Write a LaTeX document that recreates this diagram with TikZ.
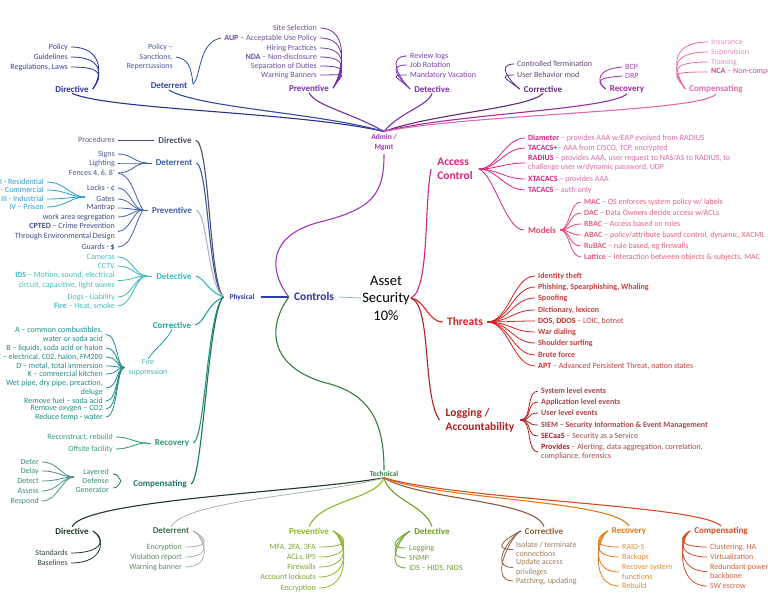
\documentclass[tikz,border=0pt]{standalone}
\usepackage{fontspec}
\setmainfont{Carlito}
\definecolor{cCtrl}{HTML}{2E2EA8}
\definecolor{cLink}{HTML}{8FB4DC}
\definecolor{cPhys}{HTML}{2C3FA6}
\definecolor{cAdmin}{HTML}{9B36B4}
\definecolor{cTech}{HTML}{2F8040}
\definecolor{aDir}{HTML}{2B2F93}\definecolor{aDirI}{HTML}{3C3FA0}
\definecolor{aDet}{HTML}{2F4C9C}\definecolor{aDetI}{HTML}{4F5C98}
\definecolor{aPre}{HTML}{7332A6}\definecolor{aPreI}{HTML}{6F4E9E}
\definecolor{aDte}{HTML}{7C2EB5}\definecolor{aDteI}{HTML}{7E3DAE}
\definecolor{aCor}{HTML}{5E2A78}\definecolor{aCorI}{HTML}{5C4470}
\definecolor{aRec}{HTML}{9D2BA6}\definecolor{aRecI}{HTML}{A344AE}
\definecolor{aCmp}{HTML}{E46AB0}\definecolor{aCmpI}{HTML}{E98BC0}\definecolor{aCmpB}{HTML}{D8459A}
\definecolor{pDir}{HTML}{4A4E68}\definecolor{pDirI}{HTML}{5C5F70}
\definecolor{pDet}{HTML}{3A5CA2}\definecolor{pDetI}{HTML}{4A5A88}
\definecolor{pPre}{HTML}{3F5FA8}\definecolor{pPreI}{HTML}{3E4C84}\definecolor{pPreL}{HTML}{A8B4D4}
\definecolor{pCls}{HTML}{2C9AD4}
\definecolor{pDte}{HTML}{36B8BC}\definecolor{pDteI}{HTML}{45BCC0}
\definecolor{pCor}{HTML}{1FA3A0}\definecolor{pFire}{HTML}{1E8C8A}
\definecolor{pRec}{HTML}{2C9278}\definecolor{pRecI}{HTML}{3A9A84}
\definecolor{pCmp}{HTML}{1B7468}\definecolor{pCmpI}{HTML}{3C8C80}
\definecolor{rAcc}{HTML}{D9237E}\definecolor{rAccI}{HTML}{D66AA8}
\definecolor{rMod}{HTML}{E5456E}\definecolor{rModI}{HTML}{E3607E}
\definecolor{rThr}{HTML}{D42020}\definecolor{rThrI}{HTML}{C83A3A}
\definecolor{rLog}{HTML}{B01E22}\definecolor{rLogI}{HTML}{A84545}
\definecolor{tDir}{HTML}{1E3826}\definecolor{tDirI}{HTML}{2E4636}
\definecolor{tDet}{HTML}{3D6E50}\definecolor{tDetI}{HTML}{5A8A62}\definecolor{tDetL}{HTML}{A6B6A6}
\definecolor{tPre}{HTML}{8DB824}\definecolor{tPreI}{HTML}{7BA232}
\definecolor{tDte}{HTML}{6D9E22}\definecolor{tDteI}{HTML}{6E9A30}
\definecolor{tCor}{HTML}{8C5A38}\definecolor{tCorI}{HTML}{9C7C5C}
\definecolor{tRec}{HTML}{E27C14}\definecolor{tRecI}{HTML}{E08A30}
\definecolor{tCmp}{HTML}{D44C24}\definecolor{tCmpI}{HTML}{D0603C}
\begin{document}
\begin{tikzpicture}[x=1pt,y=-1pt,
  it/.style={font=\fontsize{8}{9.4}\selectfont, inner xsep=3pt, inner ysep=0pt},
  itl/.style={it, anchor=west, align=left},
  itr/.style={it, anchor=east, align=right},
  cat/.style={font=\fontsize{9}{11}\selectfont\bfseries, inner xsep=4pt, inner ysep=1pt},
  hub/.style={font=\fontsize{7.5}{11}\selectfont\bfseries, inner xsep=4pt, inner ysep=1pt, align=center},
  big/.style={font=\fontsize{11.5}{14}\selectfont\bfseries, align=left, inner xsep=5pt, inner ysep=1pt},
  ln/.style={line width=0.8pt},
  tk/.style={line width=1.1pt}]
\useasboundingbox (0,0) rectangle (768,594);

% ---------- centre ----------
\node[font=\fontsize{14.5}{17.5}\selectfont, align=center, inner sep=1pt] (asset) at (386,298) {Asset\\Security\\10\%};
\node[big, text=cCtrl] (controls) at (314,297) {Controls};
\node[hub, text=cPhys, inner xsep=6pt] (physical) at (242,297) {Physical};
\node[hub, text=cAdmin, inner ysep=3pt] (admin) at (384,143) {Admin /\\[-1pt]Mgmt};
\node[hub, text=cTech] (tech) at (384,474) {Technical};
\draw[ln, cLink] (controls.east) -- (asset.west);
\draw[tk, cPhys] (physical.east) -- (controls.west);
\draw[tk, cAdmin] (controls.west) .. controls (268,270) and (268,235) .. (320,222) .. controls (372,209) and (384,195) .. (admin.south);
\draw[tk, cTech] (controls.west) .. controls (268,325) and (266,368) .. (330,384) .. controls (372,396) and (384,425) .. (tech.north);

% ---------- Admin / Mgmt ----------
\node[cat, text=aDir] (Adir) at (72,89) {Directive};
\foreach \y/\t [count=\i] in {47/{Policy}, 57/{Guidelines}, 67/{Regulations, Laws}}
  \node[itr, text=aDirI] (Adir\i) at (71,\y) {\t};
\foreach \i in {1,2,3}
  \draw[ln, aDir] (Adir\i.east) .. controls +(32,0) and +(10,-14) .. (Adir.east);

\node[cat, text=aDet] (Adet) at (169,86) {Deterrent};
\node[itr, text=aDetI, align=right] (AdetI) at (176,57) {Policy –\\Sanctions,\\Repercussions};
\coordinate (AdetH) at (193,84);
\draw[ln, aDet] (AdetI.east) .. controls +(12,2) and +(-2,-18) .. (AdetH);

\node[cat, text=aPre] (Apre) at (309,88) {Preventive};
\foreach \y/\t [count=\i] in {28/{Site Selection}, 38/{\textbf{AUP} – Acceptable Use Policy}, 48/{Hiring Practices}, 57/{\textbf{NDA} – Non-disclosure}, 66/{Separation of Duties}, 75/{Warning Banners}}
  \node[itr, text=aPreI] (Apre\i) at (320,\y) {\t};
\foreach \i in {1,...,6}
  \draw[ln, aPre] (Apre\i.east) .. controls +(30,0) and +(10,-16) .. (Apre.east);
\draw[ln, aDet] (AdetH) .. controls (201,78) and (198,42) .. (Apre2.west);

\node[cat, text=aDte] (Adte) at (432,89) {Detective};
\foreach \y/\t [count=\i] in {56/{Review logs}, 65/{Job Rotation}, 75/{Mandatory Vacation}}
  \node[itl, text=aDteI] (Adte\i) at (407,\y) {\t};
\foreach \i in {1,2,3}
  \draw[ln, aDte] (Adte\i.west) .. controls +(-20,0) and +(-12,-12) .. (Adte.west);

\node[cat, text=aCor] (Acor) at (543,89) {Corrective};
\foreach \y/\t [count=\i] in {64/{Controlled Termination}, 75/{User Behavior mod}}
  \node[itl, text=aCorI] (Acor\i) at (514,\y) {\t};
\foreach \i in {1,2}
  \draw[ln, aCor] (Acor\i.west) .. controls +(-18,0) and +(-10,-8) .. (Acor.west);

\node[cat, text=aRec] (Arec) at (627,89) {Recovery};
\foreach \y/\t [count=\i] in {67/{BCP}, 76/{DRP}}
  \node[itl, text=aRecI] (Arec\i) at (622,\y) {\t};
\foreach \i in {1,2}
  \draw[ln, aRec] (Arec\i.west) .. controls +(-25,2) and +(-10,-8) .. (Arec.west);

\node[cat, text=aCmp] (Acmp) at (716,89) {Compensating};
\foreach \y/\t [count=\i] in {42/{Insurance}, 52/{Supervision}, 62/{Training}, 72/{\textcolor{aCmpB}{\textbf{NCA} – Non-compete}}}
  \node[itl, text=aCmpI] (Acmp\i) at (708,\y) {\t};
\foreach \i in {1,...,4}
  \draw[ln, aCmp] (Acmp\i.west) .. controls +(-42,0) and +(-10,-15) .. (Acmp.west);

\draw[tk, aDir] (Adir.south) .. controls (110,110) and (300,112) .. (admin.north);
\draw[tk, aDet] (Adet.south) .. controls (200,108) and (320,113) .. (admin.north);
\draw[tk, aPre] (Apre.south) .. controls (315,106) and (350,112) .. (admin.north);
\draw[tk, aDte] (Adte.south) .. controls (428,106) and (400,112) .. (admin.north);
\draw[tk, aCor] (Acor.south) .. controls (530,108) and (430,114) .. (admin.north);
\draw[tk, aRec] (Arec.south) .. controls (610,110) and (450,114) .. (admin.north);
\draw[tk, aCmp] (Acmp.south) .. controls (700,112) and (470,114) .. (admin.north);

% ---------- Physical ----------
\node[cat, text=pDir] (Pdir) at (175,140) {Directive};
\node[itr, text=pDirI] (Pproc) at (118,140) {Procedures};
\draw[ln, pDir] (Pproc.east) -- (Pdir.west);

\node[cat, text=pDet] (Pdet) at (174,163) {Deterrent};
\coordinate (PdetH) at (147,163);
\foreach \y/\t [count=\i] in {154/{Signs}, 163/{Lighting}, 173/{Fences 4, 6, 8'}}
  \node[itr, text=pDetI] (Pdet\i) at (118,\y) {\t};
\foreach \i in {1,2,3}
  \draw[ln, pDet] (Pdet\i.east) .. controls +(14,0) and +(-12,0) .. (PdetH);
\draw[ln, pDet] (PdetH) -- (Pdet.west);

\node[cat, text=pPre] (Ppre) at (172,210) {Preventive};
\coordinate (PpreH) at (143,210);
\foreach \y/\t [count=\i] in {188/{Locks - ¢}, 199/{Gates}, 208/{Mantrap}, 217/{work area segregation}, 231.5/{\textbf{CPTED} – Crime Prevention\\Through Environmental Design}}
  \node[itr, text=pPreI] (Ppre\i) at (118,\y) {\t};
\node[itr, text=pPreI] (Pguard) at (118,247) {Guards - \textbf{\$}};
\foreach \i in {1,...,5}
  \draw[ln, pPre] (Ppre\i.east) .. controls +(12,0) and +(-10,0) .. (PpreH);
\draw[ln, pPre] (Pdet3.east) .. controls +(14,2) and +(-8,-12) .. (PpreH);
\draw[ln, pPre] (Pguard.east) .. controls +(14,0) and +(-8,12) .. (PpreH);
\draw[ln, pPre] (PpreH) -- (Ppre.west);

\coordinate (PclsH) at (85,197);
\foreach \y/\t [count=\i] in {182/{I - Residential}, 190/{II - Commercial}, 199/{III - Industrial}, 207/{IV – Prison}}
  \node[itr, text=pCls] (Pcls\i) at (47,\y) {\t};
\foreach \i in {1,...,4}
  \draw[ln, pCls] (Pcls\i.east) .. controls +(18,0) and +(-14,0) .. (PclsH);

\node[cat, text=pDte] (Pdte) at (174,276) {Detective};
\coordinate (PdteH) at (147,276);
\foreach \y/\t [count=\i] in {257/{Cameras}, 266/{CCTV}, 280.5/{\textbf{IDS} – Motion, sound, electrical\\circuit, capacitive, light waves}, 297/{Dogs - Liability}, 306/{\textbf{Fire} \ - Heat, smoke}}
  \node[itr, text=pDteI] (Pdte\i) at (118,\y) {\t};
\foreach \i in {1,...,5}
  \draw[ln, pDte] (Pdte\i.east) .. controls +(14,0) and +(-12,0) .. (PdteH);
\draw[ln, pDte] (PdteH) -- (Pdte.west);

\node[cat, text=pCor] (Pcor) at (172,325) {Corrective};
\node[it, text=pCor!80, align=center, inner xsep=4pt] (Pfire) at (148,367.5) {Fire\\suppression};
\draw[ln, pCor] (Pcor.south) .. controls +(-4,10) and +(6,-10) .. (Pfire.north);
\foreach \y/\t [count=\i] in {334.5/{A – common combustibles,\\water or soda acid}, 348/{B – liquids, soda acid or halon}, 357/{C – electrical, C02, halon, FM200}, 366/{D – metal, total immersion}, 374/{K – commercial kitchen}, 388/{Wet pipe, dry pipe, preaction,\\deluge}, 401/{Remove fuel – soda acid}, 409/{Remove oxygen – CO2}, 417/{Reduce temp - water}}
  \node[itr, text=pFire] (Pfi\i) at (106,\y) {\t};
\foreach \i in {1,...,9}
  \draw[ln, pFire] (Pfi\i.east) .. controls +(12,0) and +(-8,0) .. (Pfire.west);

\node[cat, text=pRec] (Prec) at (172,443) {Recovery};
\coordinate (PrecH) at (147,443);
\foreach \y/\t [count=\i] in {437/{Reconstruct, rebuild}, 449/{Offsite facility}}
  \node[itr, text=pRecI] (Prec\i) at (116,\y) {\t};
\foreach \i in {1,2}
  \draw[ln, pRec] (Prec\i.east) .. controls +(14,0) and +(-12,0) .. (PrecH);
\draw[ln, pRec] (PrecH) -- (Prec.west);

\node[cat, text=pCmp] (Pcmp) at (160,484) {Compensating};
\node[itr, text=pCmpI, font=\fontsize{8}{9}\selectfont] (Pldg) at (112,481) {Layered\\Defense\\Generator};
\coordinate (PcmpB) at (121,481);
\draw[ln, pCmp] (PcmpB) ++(-8,-7) .. controls +(5,0) and +(-3,-4) .. (PcmpB) .. controls +(-3,4) and +(5,0) .. ++(-8,7);
\coordinate (PddH) at (74,477);
\foreach \y/\t [count=\i] in {462/{Deter}, 471/{Delay}, 481/{Detect}, 491/{Assess}, 501/{Respond}}
  \node[itr, text=pCmpI] (Pdd\i) at (42,\y) {\t};
\foreach \i in {1,...,5}
  \draw[ln, pCmp!80] (Pdd\i.east) .. controls +(16,0) and +(-12,0) .. (PddH);

\draw[tk, pDir] (Pdir.east) .. controls +(14,4) and (209,282) .. (physical.west);
\draw[tk, pDet] (Pdet.east) .. controls +(12,4) and (208,282) .. (physical.west);
\draw[tk, pPreL] (Ppre.east) .. controls +(12,4) and (207,284) .. (physical.west);
\draw[tk, pDte] (Pdte.east) .. controls +(10,3) and (206,290) .. (physical.west);
\draw[tk, pCor] (Pcor.east) .. controls +(10,-3) and (206,305) .. (physical.west);
\draw[tk, pRec] (Prec.east) .. controls +(12,-4) and (207,312) .. (physical.west);
\draw[tk, pCmp] (Pcmp.east) .. controls +(12,-4) and (208,312) .. (physical.west);

% ---------- Access Control ----------
\node[big, text=rAcc, inner xsep=6pt] (acc) at (455,169) {Access\\Control};
\draw[tk, rAcc] (asset.east) .. controls (430,290) and (424,200) .. (acc.west);
\foreach \y/\t [count=\i] in {138/{\textbf{\textcolor{rAcc}{Diameter}} – provides AAA w/EAP evolved from RADIUS}, 148/{\textbf{\textcolor{rAcc}{TACACS+}} - AAA from CISCO, TCP, encrypted}, 163/{\textbf{\textcolor{rAcc}{RADIUS}} – provides AAA, user request to NAS/AS to RADIUS, to\\challenge user w/dynamic password, UDP}, 179/{\textbf{\textcolor{rAcc}{XTACACS}} – provides AAA}, 190/{\textbf{\textcolor{rAcc}{TACACS}} – auth only}}
  \node[itl, text=rAccI] (Ac\i) at (525,\y) {\t};
\foreach \i in {1,...,5}
  \draw[ln, rAcc] (acc.east) .. controls +(18,0) and +(-20,0) .. (Ac\i.west);
\node[cat, text=rMod] (models) at (542,230) {Models};
\draw[ln, rAcc] (acc.east) .. controls +(15,5) and +(-18,0) .. (models.west);
\foreach \y/\t [count=\i] in {202/{\textbf{MAC} – OS enforces system policy w/ labels}, 213/{\textbf{DAC} – Data Owners decide access w/ACLs}, 224/{\textbf{RBAC} – Access based on roles}, 235/{\textbf{ABAC} – policy/attribute based control, dynamic, XACML}, 246/{\textbf{RuBAC} – rule based, eg firewalls}, 257/{\textbf{Lattice} – Interaction between objects \& subjects, MAC}}
  \node[itl, text=rModI] (Mo\i) at (581,\y) {\t};
\foreach \i in {1,...,6}
  \draw[ln, rMod] (models.east) .. controls +(10,0) and +(-12,0) .. (Mo\i.west);

% ---------- Threats ----------
\node[big, text=rThr, inner xsep=4pt] (thr) at (465,322) {Threats};
\draw[tk, rThr] (asset.east) .. controls (425,300) and (428,322) .. (thr.west);
\foreach \y/\t [count=\i] in {276/{\textbf{Identity theft}}, 287/{\textbf{Phishing, Spearphishing, Whaling}}, 298/{\textbf{Spoofing}}, 310/{\textbf{Dictionary, lexicon}}, 321/{\textbf{\textcolor{rThr}{DOS, DDOS}} – LOIC, botnet}, 332/{\textbf{War dialing}}, 343/{\textbf{Shoulder surfing}}, 355/{\textbf{Brute force}}, 366/{\textbf{\textcolor{rThr}{APT}} – Advanced Persistent Threat, nation states}}
  \node[itl, text=rThrI] (Th\i) at (535,\y) {\t};
\foreach \i in {1,...,9}
  \draw[ln, rThr] (thr.east) .. controls +(22,0) and +(-22,0) .. (Th\i.west);

% ---------- Logging ----------
\node[big, text=rLog, inner xsep=6pt] (log) at (480,420) {Logging /\\Accountability};
\draw[tk, rLog] (asset.east) .. controls (432,305) and (422,395) .. (log.west);
\foreach \y/\t [count=\i] in {391/{\textbf{System level events}}, 402/{\textbf{Application level events}}, 413/{\textbf{User level events}}, 425/{\textbf{SIEM – Security Information \& Event Management}}, 436/{\textbf{\textcolor{rLog}{SECaaS}} – Security as a Service}, 452/{\textbf{\textcolor{rLog}{Provides}} – Alerting, data aggregation, correlation,\\compliance, forensics}}
  \node[itl, text=rLogI] (Lg\i) at (538,\y) {\t};
\foreach \i in {1,...,6}
  \draw[ln, rLog] (log.east) .. controls +(12,0) and +(-12,0) .. (Lg\i.west);

% ---------- Technical ----------
\node[cat, text=tDir] (Tdir) at (72,531) {Directive};
\foreach \y/\t [count=\i] in {553/{Standards}, 563/{Baselines}}
  \node[itr, text=tDirI] (Tdir\i) at (71,\y) {\t};
\foreach \i in {1,2}
  \draw[ln, tDir] (Tdir\i.east) .. controls +(35,0) and +(12,6) .. (Tdir.east);

\node[cat, text=tDet] (Tdet) at (171,531) {Deterrent};
\foreach \y/\t [count=\i] in {547/{Encryption}, 557/{Violation report}, 567/{Warning banner}}
  \node[itr, text=tDetI] (Tdet\i) at (185,\y) {\t};
\foreach \i in {1,2,3}
  \draw[ln, tDetL] (Tdet\i.east) .. controls +(30,0) and +(10,5) .. (Tdet.east);

\node[cat, text=tPre] (Tpre) at (309,531) {Preventive};
\foreach \y/\t [count=\i] in {547/{MFA, 2FA, 3FA}, 557/{ACLs, IPS}, 567/{Firewalls}, 577/{Account lockouts}, 588/{Encryption}}
  \node[itr, text=tPreI] (Tpre\i) at (319,\y) {\t};
\foreach \i in {1,...,5}
  \draw[ln, tPre] (Tpre\i.east) .. controls +(35,0) and +(12,6) .. (Tpre.east);

\node[cat, text=tDte] (Tdte) at (432,531) {Detective};
\foreach \y/\t [count=\i] in {548/{Logging}, 558/{SNMP}, 568/{IDS – HIDS, NIDS}}
  \node[itl, text=tDteI] (Tdte\i) at (406,\y) {\t};
\foreach \i in {1,2,3}
  \draw[ln, tDte] (Tdte\i.west) .. controls +(-22,0) and +(-10,5) .. (Tdte.west);

\node[cat, text=tCor] (Tcor) at (544,531) {Corrective};
\foreach \y/\t [count=\i] in {549.5/{Isolate / terminate\\connections}, 567.5/{Update access\\privileges}, 581/{Patching, updating}}
  \node[itl, text=tCorI] (Tcor\i) at (513,\y) {\t};
\foreach \i in {1,2,3}
  \draw[ln, tCor] (Tcor\i.west) .. controls +(-25,0) and +(-10,5) .. (Tcor.west);

\node[cat, text=tRec] (Trec) at (629,531) {Recovery};
\foreach \y/\t [count=\i] in {547/{RAID-5}, 557/{Backups}, 572/{Recover system\\functions}, 586/{Rebuild}}
  \node[itl, text=tRecI] (Trec\i) at (619,\y) {\t};
\foreach \i in {1,...,4}
  \draw[ln, tRec] (Trec\i.west) .. controls +(-30,0) and +(-10,5) .. (Trec.west);

\node[cat, text=tCmp] (Tcmp) at (721,531) {Compensating};
\foreach \y/\t [count=\i] in {547/{Clustering, HA}, 557/{Virtualization}, 571.5/{Redundant power\\backbone}, 586/{SW escrow}}
  \node[itl, text=tCmpI] (Tcmp\i) at (707,\y) {\t};
\foreach \i in {1,...,4}
  \draw[ln, tCmp] (Tcmp\i.west) .. controls +(-32,0) and +(-10,5) .. (Tcmp.west);

\draw[tk, tDir] (tech.south) .. controls (300,492) and (85,500) .. (Tdir.north);
\draw[ln, tDetL] (tech.south) .. controls (320,495) and (185,500) .. (Tdet.north);
\draw[tk, tPre] (tech.south) .. controls (375,500) and (320,500) .. (Tpre.north);
\draw[tk, tDte] (tech.south) .. controls (390,500) and (425,505) .. (Tdte.north);
\draw[tk, tCor] (tech.south) .. controls (420,500) and (535,500) .. (Tcor.north);
\draw[tk, tRec] (tech.south) .. controls (440,500) and (615,500) .. (Trec.north);
\draw[tk, tCmp] (tech.south) .. controls (460,500) and (700,505) .. (Tcmp.north);
\end{tikzpicture}
\end{document}
